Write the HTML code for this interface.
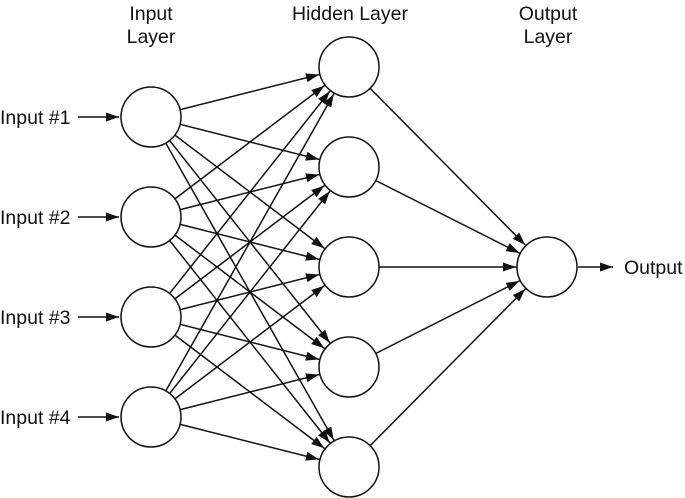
<!DOCTYPE html>
<html><head><meta charset="utf-8"><style>
html,body{margin:0;padding:0;background:#fff;}
svg{display:block;}
text{font-family:"Liberation Sans",Arial,sans-serif;font-size:19.5px;fill:#111;}
</style></head><body>
<svg width="685" height="498" viewBox="0 0 685 498" xmlns="http://www.w3.org/2000/svg">
<defs>
<marker id="a" markerUnits="userSpaceOnUse" markerWidth="1" markerHeight="1" refX="31" refY="0" orient="auto" overflow="visible">
<path d="M0,0 L-13,-4.5 L-13,4.5 Z" fill="#111"/>
</marker>
<marker id="b" markerUnits="userSpaceOnUse" markerWidth="1" markerHeight="1" refX="0" refY="0" orient="auto" overflow="visible">
<path d="M0,0 L-13,-4.5 L-13,4.5 Z" fill="#111"/>
</marker>
</defs>
<g stroke="#111" stroke-width="1.5" fill="none">
<g marker-end="url(#a)">
<line x1="151" y1="117" x2="349" y2="67"/><line x1="151" y1="117" x2="349" y2="167"/><line x1="151" y1="117" x2="349" y2="267"/><line x1="151" y1="117" x2="349" y2="367"/><line x1="151" y1="117" x2="349" y2="467"/>
<line x1="151" y1="217" x2="349" y2="67"/><line x1="151" y1="217" x2="349" y2="167"/><line x1="151" y1="217" x2="349" y2="267"/><line x1="151" y1="217" x2="349" y2="367"/><line x1="151" y1="217" x2="349" y2="467"/>
<line x1="151" y1="317" x2="349" y2="67"/><line x1="151" y1="317" x2="349" y2="167"/><line x1="151" y1="317" x2="349" y2="267"/><line x1="151" y1="317" x2="349" y2="367"/><line x1="151" y1="317" x2="349" y2="467"/>
<line x1="151" y1="417" x2="349" y2="67"/><line x1="151" y1="417" x2="349" y2="167"/><line x1="151" y1="417" x2="349" y2="267"/><line x1="151" y1="417" x2="349" y2="367"/><line x1="151" y1="417" x2="349" y2="467"/>
<line x1="349" y1="67" x2="547" y2="267"/><line x1="349" y1="167" x2="547" y2="267"/><line x1="349" y1="267" x2="547" y2="267"/><line x1="349" y1="367" x2="547" y2="267"/><line x1="349" y1="467" x2="547" y2="267"/>
</g>
<g marker-end="url(#b)">
<line x1="78" y1="117" x2="119" y2="117"/><line x1="78" y1="217" x2="119" y2="217"/><line x1="78" y1="317" x2="119" y2="317"/><line x1="78" y1="417" x2="119" y2="417"/>
<line x1="578" y1="267" x2="613" y2="267"/>
</g>
</g>
<g stroke="#111" stroke-width="1.5" fill="#fff">
<circle cx="151" cy="117" r="30"/><circle cx="151" cy="217" r="30"/><circle cx="151" cy="317" r="30"/><circle cx="151" cy="417" r="30"/>
<circle cx="349" cy="67" r="30"/><circle cx="349" cy="167" r="30"/><circle cx="349" cy="267" r="30"/><circle cx="349" cy="367" r="30"/><circle cx="349" cy="467" r="30"/>
<circle cx="547" cy="267" r="30"/>
</g>
<text x="0" y="124">Input #1</text>
<text x="0" y="224">Input #2</text>
<text x="0" y="324">Input #3</text>
<text x="0" y="424">Input #4</text>
<text x="624" y="274">Output</text>
<text x="151" y="20" text-anchor="middle">Input</text>
<text x="151" y="43" text-anchor="middle">Layer</text>
<text x="350" y="20" text-anchor="middle">Hidden Layer</text>
<text x="548" y="20" text-anchor="middle">Output</text>
<text x="548" y="43" text-anchor="middle">Layer</text>
</svg>
</body></html>
